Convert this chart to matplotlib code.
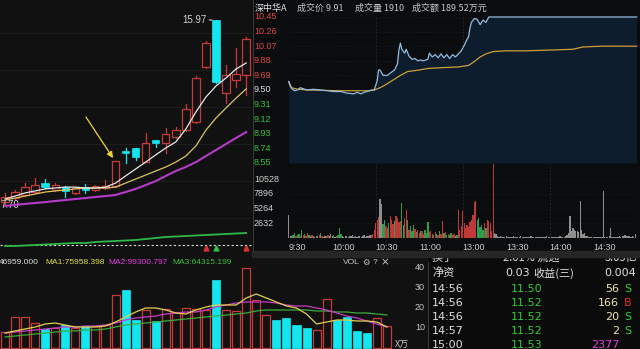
import matplotlib
matplotlib.use('Agg')
import matplotlib.pyplot as plt
import matplotlib.transforms as mtrans
from matplotlib.patches import Rectangle
from matplotlib.lines import Line2D

# ---------------- data: daily candles (visible part) ----------------
k_open = [7.83, 8.01, 8.15, 8.28, 8.68, 8.37, 8.50, 8.24, 8.50, 8.37, 8.46, 8.55, 10.11,
          10.25, 9.62, 10.61, 10.47, 10.74, 11.05, 11.41, 13.87, 15.97, 12.71, 13.29, 13.51]
k_high = [8.24, 8.37, 8.68, 8.91, 8.86, 8.68, 8.55, 8.50, 8.64, 8.59, 8.82, 9.67, 10.25,
          10.25, 10.92, 10.61, 11.14, 11.19, 12.22, 13.47, 15.03, 15.97, 13.96, 14.72, 15.21]
k_low = [7.70, 7.97, 8.10, 8.24, 8.46, 8.33, 8.06, 8.19, 8.24, 8.33, 8.42, 8.50, 9.58,
         9.71, 9.62, 10.29, 10.02, 10.70, 11.01, 11.37, 13.82, 13.15, 12.26, 12.98, 12.62]
k_close = [8.06, 8.28, 8.50, 8.59, 8.50, 8.59, 8.33, 8.46, 8.37, 8.55, 8.55, 9.67, 10.02,
           9.85, 10.47, 10.47, 10.87, 11.05, 11.99, 13.38, 14.94, 13.20, 13.51, 13.56, 15.12]
k_ma5 = [7.97, 8.10, 8.24, 8.33, 8.42, 8.46, 8.50, 8.50, 8.46, 8.46, 8.50, 8.68, 9.00,
         9.31, 9.62, 9.94, 10.25, 10.52, 11.10, 11.86, 12.53, 13.02, 13.38, 13.78, 14.05]
k_ma10 = [7.92, 8.01, 8.10, 8.19, 8.28, 8.33, 8.37, 8.42, 8.46, 8.46, 8.46, 8.50, 8.68,
          8.86, 9.04, 9.22, 9.40, 9.62, 9.89, 10.34, 11.05, 11.59, 12.04, 12.48, 12.89]
k_ma30 = [7.66, 7.70, 7.75, 7.79, 7.83, 7.88, 7.92, 7.97, 8.01, 8.06, 8.10, 8.15, 8.28,
          8.42, 8.59, 8.77, 9.00, 9.22, 9.40, 9.62, 9.89, 10.16, 10.43, 10.70, 10.96]
k_grid = [15.39, 13.73, 12.08, 10.43, 8.77, 7.12]
ind_line = [0.16, 0.16, 0.18, 0.20, 0.22, 0.24, 0.26, 0.28, 0.28, 0.32, 0.34, 0.36, 0.38,
            0.40, 0.44, 0.48, 0.52, 0.54, 0.56, 0.58, 0.60, 0.62, 0.64, 0.66, 0.68]
ind_zero = 0.2
sig_idx = [20, 21, 24]
sig_col = ['#e03030', '#30c040', '#e03030']
arrow_from = (8.06, 11.63)
arrow_to = (10.75, 9.80)

# ---------------- data: daily volume (万) ----------------
dvol = [8, 15.5, 15.5, 12.5, 9.5, 10, 11.5, 10, 11, 11, 11.5, 26.5, 29, 14, 19, 13.5, 19.5,
        18, 20, 19.5, 19, 34, 19, 18.5, 40, 24, 16.5, 14, 15, 11.5, 10, 9, 24.5, 14, 15.5,
        8.5, 7.5, 15, 11]
dvol_up = "rrrrcrcrcrrrccrcrrrrrcrrrrrccccrrccccrr"
dvol_ma1 = [7.5, 8.5, 9.5, 10.5, 12, 12.5, 11.5, 10.5, 10.5, 10.5, 11, 13, 15.5, 18, 20, 20,
            19, 17.5, 17, 19, 20.5, 21.5, 21.5, 21.5, 25, 27, 25, 23, 21, 20, 17, 12, 13, 14,
            14, 13.5, 13.5, 13, 10.5]
dvol_ma2 = [7.5, 8, 8.5, 9, 9.5, 10, 10.5, 10.5, 11, 11, 11.5, 12.5, 14, 15, 15.5, 16, 17,
            17.5, 18, 18, 19, 20.5, 21.5, 22.5, 23, 23, 23, 22.5, 21.5, 21, 21, 20, 19, 17.5,
            16, 15, 13.5, 12, 10.5]
dvol_ma3 = [5.5, 6, 6.5, 7, 7.5, 8, 8.5, 8.5, 9, 9, 9.5, 10.5, 11.5, 12, 12.5, 13, 13.5, 14,
            14.5, 15, 15.5, 16, 16.5, 17, 17.5, 18.5, 19, 19, 19, 19, 19, 18.5, 18.5, 18, 18,
            17.5, 17.5, 17, 16.5]
dvol_ticks = [40, 30, 20, 10]

# ---------------- data: intraday ----------------
prev_close = 9.50
ip_min = [0, 1, 2, 4, 6, 8, 11, 13, 17, 22, 27, 31, 36, 40, 45, 47, 50, 52, 54, 57,
          59, 61, 62, 63, 65, 68, 70, 73, 75, 76, 77, 78, 80, 81, 83, 85, 87, 89, 91, 93,
          96, 97, 99, 101, 103, 105, 107, 109, 111, 113, 115, 117, 119, 121, 123, 124, 125,
          126, 128, 130, 132, 134, 136, 138, 240]
ip_price = [9.61, 9.55, 9.52, 9.49, 9.50, 9.53, 9.51, 9.50, 9.51, 9.50, 9.49, 9.48, 9.48,
            9.46, 9.45, 9.47, 9.45, 9.47, 9.48, 9.50, 9.50, 9.62, 9.76, 9.76, 9.69, 9.69,
            9.72, 9.76, 9.84, 10.02, 10.11, 10.03, 9.98, 10.03, 9.94, 9.90, 9.91, 9.88, 9.89,
            9.88, 9.90, 9.98, 9.93, 9.96, 9.92, 9.97, 9.92, 9.96, 9.91, 9.96, 9.93, 9.97,
            10.01, 10.08, 10.16, 10.19, 10.31, 10.38, 10.43, 10.42, 10.35, 10.41, 10.38,
            10.45, 10.45]
ia_min = [0, 2, 6, 14, 36, 56, 59, 63, 66, 72, 77, 82, 90, 96, 105, 117, 124, 128, 132,
          136, 141, 150, 164, 180, 196, 203, 216, 240]
ia_price = [9.61, 9.53, 9.51, 9.50, 9.49, 9.49, 9.50, 9.53, 9.56, 9.63, 9.69, 9.74, 9.76,
            9.78, 9.79, 9.80, 9.82, 9.87, 9.93, 9.97, 10.00, 10.01, 10.01, 10.02, 10.03,
            10.06, 10.07, 10.07]
ivol = [4200, 400, 300, 500, 900, 400, 600, 800, 300, 1400,
        500, 700, 400, 900, 500, 300, 600, 300, 200, 400,
        300, 500, 900, 300, 200, 400, 300, 500, 300, 700,
        300, 500, 200, 400, 600, 1800, 700, 300, 200, 400,
        300, 200, 400, 300, 500, 200, 300, 200, 400, 300,
        200, 300, 500, 200, 300, 400, 600, 500, 800,
        1500, 2600, 3300, 3800, 7000, 6000, 2500, 3300, 2200, 1800,
        2600, 3900, 3200, 2500, 3000, 3900, 3600, 2800, 3000, 6300,
        2400, 3500, 5100, 3300, 1500, 2100, 1200, 2400, 1600, 1000,
        1500, 900, 1300, 1200, 800, 1500, 900, 2800, 1100, 1200,
        800, 600, 1000, 700, 500, 1200, 800, 3000, 900, 1000,
        600, 700, 500, 900, 600, 800, 400, 600, 5100, 1500,
        2200, 4800,
        2700, 1800, 2400, 2000, 2900, 3300, 4200, 6400, 6600, 3300,
        3600, 2000, 2400, 1500, 2700, 1800, 3300, 3000, 2700, 1200,
        13300, 900, 700,
        300, 200, 300, 200, 100, 200, 300, 200, 200, 100,
        200, 300, 200, 100, 200, 200, 300, 200, 100, 200,
        200, 100, 200, 300, 200, 200, 100, 200, 200, 100,
        200, 200, 100, 200, 300, 200, 100, 200, 200, 200,
        100, 200, 200, 300, 200, 100, 200, 300, 600, 900,
        4000, 1200, 1800, 1400, 1200, 1300, 1100, 6600, 1400, 800,
        900, 400, 300, 200, 200, 100, 200, 200, 100, 200,
        200, 100, 200, 8400, 200, 100, 200, 300, 1800, 200,
        200, 100, 200, 200, 300, 200, 300, 400, 500, 400,
        400, 300, 200, 300, 200, 700]
ivol_dir = ("wwwggrggrg" "rgrrgwrwwg" "wrgrwwgrww" "wgwrgggwww" "wwwwwwwwww" "wwwwwwwrr"
            "rrrrwwggrr" "grrrgrrrrg" "grrgrgggrg" "rrgrrgggrr" "grrgrgrrgr" "grggrrwgrr" "rr"
            "rrrrrrrrrg" "ggggrgrrrr" "rww" + "w" * 96)
price_ticks = [10.45, 10.26, 10.07, 9.88, 9.69, 9.50, 9.31, 9.12, 8.93, 8.74, 8.55]
ivol_ticks = [10528, 7896, 5264, 2632]
time_ticks = [0, 30, 60, 90, 120, 150, 180, 210]
time_labels = ['9:30', '10:00', '10:30', '11:00', '13:00', '13:30', '14:00', '14:30']

# ---------------- data: quote table ----------------
trade_time = ['14:56', '14:56', '14:56', '14:57', '15:00']
trade_price = ['11.50', '11.52', '11.52', '11.52', '11.53']
trade_vol = ['56', '166', '20', '2', '2377']
trade_side = ['S', 'B', 'S', 'S', '']

# ---------------- drawing ----------------
W, H = 640, 349
fig = plt.figure(figsize=(W / 100, H / 100), dpi=100)
fig.patch.set_facecolor('#111111')
NARROW = ['Liberation Sans', 'DejaVu Sans']
CJK = ['Noto Sans CJK SC', 'DejaVu Sans']
RED = '#c83a3a'
CYAN = '#14e6f0'


def pax(x0, y0, x1, y1, z=1, fc='none'):
    ax = fig.add_axes([x0 / W, 1 - y1 / H, (x1 - x0) / W, (y1 - y0) / H], zorder=z)
    ax.set_facecolor(fc)
    ax.set_xticks([])
    ax.set_yticks([])
    for s in ax.spines.values():
        s.set_visible(False)
    return ax


def fx(x):
    return x / W


def fy(y):
    return 1 - y / H


def ftext(x, y, s, **kw):
    kw.setdefault('va', 'center')
    kw.setdefault('zorder', 10)
    return fig.text(fx(x), fy(y), s, **kw)


def fline(x0, y0, x1, y1, **kw):
    fig.add_artist(Line2D([fx(x0), fx(x1)], [fy(y0), fy(y1)], transform=fig.transFigure, **kw))


def frect(x0, y0, x1, y1, **kw):
    fig.add_artist(Rectangle((fx(x0), fy(y1)), (x1 - x0) / W, (y1 - y0) / H,
                             transform=fig.transFigure, **kw))


# daily candle panel
n_k = len(k_open)
XL = (-0.4975, 24.58)
axk = pax(0, 0, 252, 250, z=1)
axk.set_xlim(*XL)
axk.set_ylim(5.689, 16.864)
for g in k_grid:
    axk.axhline(g, color='#202020', lw=0.6, zorder=0)
for i in range(n_k):
    o, h, l, c = k_open[i], k_high[i], k_low[i], k_close[i]
    if c >= o:
        axk.plot([i, i], [l, o], color=RED, lw=0.9, zorder=3)
        axk.plot([i, i], [c, h], color=RED, lw=0.9, zorder=3)
        axk.add_patch(Rectangle((i - 0.37, o), 0.74, c - o, fc='none', ec=RED, lw=0.9, zorder=3))
    else:
        axk.plot([i, i], [l, h], color=CYAN, lw=0.9, zorder=3)
        axk.add_patch(Rectangle((i - 0.37, c), 0.74, o - c, fc=CYAN, ec=CYAN, lw=0.5, zorder=3))
xs = list(range(n_k))
axk.plot(xs, k_ma30, color='#b43cc8', lw=1.5, zorder=4)
axk.plot(xs, k_ma10, color='#d9c55e', lw=0.9, zorder=4)
axk.plot(xs, k_ma5, color='#e8e8e8', lw=0.9, zorder=4)
axk.annotate('', xy=arrow_to, xytext=arrow_from,
             arrowprops=dict(arrowstyle='-|>', color='#e8d838', lw=0.9, mutation_scale=9,
                             shrinkA=0, shrinkB=0), zorder=5)
imax = k_high.index(max(k_high))
axk.annotate(f'{max(k_high):.2f}', xy=(imax - 0.4, max(k_high)), xytext=(-4, 0),
             textcoords='offset points', ha='right', va='center', color='#d0d0d0',
             fontsize=7, family=NARROW,
             arrowprops=dict(arrowstyle='-', color='#d0d0d0', lw=0.8, shrinkA=0, shrinkB=0))
imin = k_low.index(min(k_low))
axk.annotate(f'{min(k_low):.2f}', xy=(imin, min(k_low)), xytext=(-3.2, 0),
             textcoords='offset points', ha='left', va='center', color='#d0d0d0',
             fontsize=7, family=NARROW)

# indicator strip
axi = pax(0, 225, 252, 250, z=2)
axi.set_xlim(*XL)
axi.set_ylim(0, 1)
axi.axhline(ind_zero, color='#d8d8d8', lw=0.8, ls=(0, (2, 2)))
axi.plot(xs, ind_line, color='#2fb84a', lw=1.3)
for i, c in zip(sig_idx, sig_col):
    axi.plot(i, 0.1, marker='^', color=c, markersize=3.5, clip_on=False)

# daily volume panel
axv = pax(0, 258, 395, 349, z=1)
axv.set_xlim(-0.4975, 38.8)
axv.set_ylim(-0.5, 45)
for i, (v, d) in enumerate(zip(dvol, dvol_up)):
    if d == 'r':
        axv.bar(i, v, width=0.8, bottom=0, facecolor='none', edgecolor=RED, lw=0.9)
    else:
        axv.bar(i, v, width=0.8, bottom=0, facecolor=CYAN, edgecolor=CYAN, lw=0.5)
xv = list(range(len(dvol)))
axv.plot(xv, dvol_ma3, color='#3caa3c', lw=0.9)
axv.plot(xv, dvol_ma2, color='#c83cc8', lw=0.9)
axv.plot(xv, dvol_ma1, color='#e0d050', lw=0.9)
ftext(-1, 262, '46959.000', color='#e0e0e0', fontsize=6, family=NARROW)
ftext(45, 262, 'MA1:75958.398', color='#e6e040', fontsize=6, family=NARROW)
ftext(108, 262, 'MA2:99300.797', color='#e040e0', fontsize=6, family=NARROW)
ftext(172, 262, 'MA3:64315.199', color='#40c040', fontsize=6, family=NARROW)
ftext(343, 262, 'VOL', color='#c8c8c8', fontsize=6, family=NARROW)
ftext(362, 262, '\u2699', color='#c8c8c8', fontsize=6, family=['DejaVu Sans'])
ftext(373, 262, '?', color='#c8c8c8', fontsize=6, family=NARROW)
ftext(381, 262, '\u00d7', color='#c8c8c8', fontsize=7.5, family=['DejaVu Sans'])
tv = mtrans.blended_transform_factory(fig.transFigure, axv.transData)
for t in dvol_ticks:
    fig.text(fx(425), t, str(t), transform=tv, ha='right', va='center', color='#c8c8c8',
             fontsize=6.5, family=NARROW)
ftext(395, 344, 'X万', color='#c8c8c8', fontsize=6.5, family=CJK)

# quote table
frect(428, 252, 640, 349, color='#0b0b0b', zorder=2)
fline(428, 262, 428, 349, color='#3a3a3a', lw=0.8, zorder=3)
ftext(432, 257.5, '换手', color='#e0e0e0', fontsize=8, family=CJK, zorder=3)
ftext(503, 257.5, '2.01% 流通', color='#e0e0e0', fontsize=8, family=CJK, zorder=3)
ftext(637, 257.5, '3.03亿', color='#e0e0e0', fontsize=8, family=CJK, ha='right', zorder=3)
ftext(432, 273, '净资', color='#e0e0e0', fontsize=8, family=CJK)
ftext(530, 273, '0.03', color='#e0e0e0', fontsize=8, family=['DejaVu Sans'], ha='right')
ftext(533, 273, '收益(三)', color='#e0e0e0', fontsize=8, family=CJK)
ftext(636, 273, '0.004', color='#e0e0e0', fontsize=8, family=['DejaVu Sans'], ha='right')
row_y = [289, 303, 317, 331, 345]
for y, t, p, v, s in zip(row_y, trade_time, trade_price, trade_vol, trade_side):
    ftext(432, y, t, color='#e0e0e0', fontsize=8, family=['DejaVu Sans'])
    ftext(527, y, p, color='#33cc33', fontsize=8, family=['DejaVu Sans'], ha='center')
    vc = '#e040e0' if s == '' else '#efe4b0'
    ftext(619, y, v, color=vc, fontsize=8, family=['DejaVu Sans'], ha='right')
    if s:
        ftext(624, y, s, color='#33cc33' if s == 'S' else '#e03030', fontsize=8,
              family=['DejaVu Sans'])

# intraday overlay
axo = pax(252, 0, 640, 251, z=5, fc='#0b0c0e')
frect(252, 251, 640, 256.5, color='#262626', zorder=6)
fline(252.5, 0, 252.5, 251, color='#3a3a3a', lw=0.8, zorder=7)

IXL = (-0.5, 239.5)
axp = pax(288, 17, 636, 163, z=6)
axp.set_xlim(*IXL)
axp.set_ylim(8.55, 10.45)
for p in price_ticks:
    axp.axhline(p, color='#1c222b', lw=0.6, ls=(0, (1, 2)), zorder=0)
axp.axhline(price_ticks[-1], color='#2a2f36', lw=0.7, zorder=0)
for m in [60, 120, 180]:
    axp.axvline(m, color='#262b33', lw=0.6, ls=(0, (2, 2)), zorder=0)
axp.fill_between(ip_min, ip_price, 8.55, color='#0d1d2d', lw=0, zorder=1)
axp.plot(ia_min, ia_price, color='#cf9f38', lw=0.9, zorder=3, clip_on=False)
axp.plot(ip_min, ip_price, color='#93bde0', lw=0.9, zorder=4, clip_on=False)

axiv = pax(288, 164, 636, 238, z=6)
axiv.set_xlim(*IXL)
axiv.set_ylim(0, 13250)
for v in ivol_ticks:
    axiv.axhline(v, color='#1a1f26', lw=0.6, ls=(0, (1, 2)), zorder=0)
for m in [60, 120, 180]:
    axiv.axvline(m, color='#262b33', lw=0.6, ls=(0, (2, 2)), zorder=0)
cmap = {'r': '#c03838', 'g': '#2e9e4a', 'w': '#8e8e8e'}
axiv.bar(range(len(ivol)), ivol, width=0.9, color=[cmap[d] for d in ivol_dir], lw=0)

tp = mtrans.blended_transform_factory(fig.transFigure, axp.transData)
for p in price_ticks:
    col = '#e04848' if p > prev_close else ('#e0e0e0' if p == prev_close else '#38c438')
    fig.text(fx(254), p, f'{p:.2f}', transform=tp, va='center', ha='left', color=col,
             fontsize=6.5, family=NARROW, zorder=10)
tiv = mtrans.blended_transform_factory(fig.transFigure, axiv.transData)
for v in ivol_ticks:
    fig.text(fx(254), v, str(v), transform=tiv, va='center', ha='left', color='#d0d0d0',
             fontsize=6.5, family=NARROW, zorder=10)
tt = mtrans.blended_transform_factory(axp.transData, fig.transFigure)
for m, lab in zip(time_ticks, time_labels):
    fig.text(m, fy(247), lab, transform=tt, va='center', ha='left', color='#cccccc',
             fontsize=6.5, family=NARROW, zorder=10)

ftext(255, 8, '深中华A', color='#e6e6e6', fontsize=6.5, family=CJK)
ftext(297, 8, '成交价 9.91', color='#c8c8c8', fontsize=6.5, family=CJK)
ftext(355, 8, '成交量 1910', color='#c8c8c8', fontsize=6.5, family=CJK)
ftext(412, 8, '成交额 189.52万元', color='#c8c8c8', fontsize=6.5, family=CJK)

fig.savefig('out.png', dpi=100, facecolor=fig.get_facecolor())
